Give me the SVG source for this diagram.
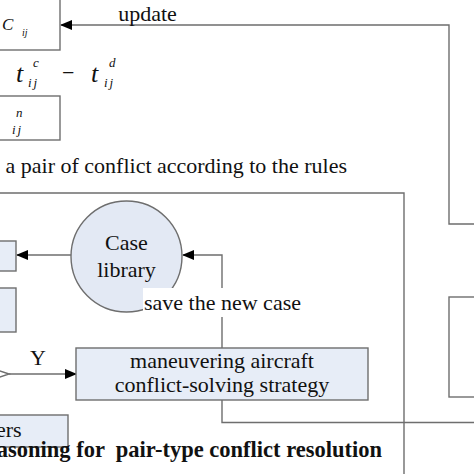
<svg xmlns="http://www.w3.org/2000/svg" width="474" height="474" viewBox="0 0 474 474">
<style>
.ln{fill:none;stroke:#6e6e6e;stroke-width:1.4}
.bx{fill:#ffffff;stroke:#6e6e6e;stroke-width:1.4}
.bb{fill:#e7edf7;stroke:#6e6e6e;stroke-width:1.4}
.t{font-family:'Times New Roman','Liberation Serif','DejaVu Serif',serif;font-size:22px;fill:#111}
.it{font-family:'Times New Roman','Liberation Serif','DejaVu Serif',serif;font-style:italic;fill:#111}
.b{font-family:'Times New Roman','Liberation Serif','DejaVu Serif',serif;font-size:22.5px;font-weight:bold;fill:#111}
</style>
<defs>
<marker id="ah" markerWidth="12" markerHeight="10" refX="11" refY="5" orient="auto" markerUnits="userSpaceOnUse">
<path d="M0,0 L12,5 L0,10 z" fill="#000"/>
</marker>
</defs>
<rect width="474" height="474" fill="#fff"/>
<g id="connectors">
<path class="ln" d="M474,224 H449 V25 H61" marker-end="url(#ah)"/>
<path class="ln" d="M0,193 H404 V476"/>
<path class="ln" d="M474,422.5 H222 V255 H183" marker-end="url(#ah)"/>
<path class="ln" d="M71,255 H17" marker-end="url(#ah)"/>
<path class="ln" d="M9,374 H76" marker-end="url(#ah)"/>
</g>
<g id="node-cij">
<rect class="bx" x="-2" y="-2" width="62" height="52"/>
<text class="it" x="2" y="30" font-size="17">C</text>
<text class="it" x="22" y="36" font-size="10">ij</text>
</g>
<g id="formula">
<text class="it" x="16" y="82" font-size="26">t</text>
<text class="it" x="33" y="67" font-size="13">c</text>
<text class="it" x="28" y="87" font-size="13" letter-spacing="2">ij</text>
<text class="t" x="62" y="80">−</text>
<text class="it" x="91" y="82" font-size="26">t</text>
<text class="it" x="109" y="67" font-size="13">d</text>
<text class="it" x="104" y="87" font-size="13" letter-spacing="2">ij</text>
</g>
<g id="node-nij">
<rect class="bx" x="-2" y="96" width="62" height="44"/>
<text class="it" x="16" y="117" font-size="13">n</text>
<text class="it" x="12" y="134" font-size="13" letter-spacing="2">ij</text>
</g>
<text class="t" x="347" y="173" text-anchor="end" font-size="22.4">a pair of conflict according to the rules</text>
<text class="t" x="147.5" y="21" text-anchor="middle">update</text>
<g id="node-case-library">
<circle cx="126.5" cy="256.5" r="55.5" fill="#e3e9f4" stroke="#6e6e6e" stroke-width="1.4"/>
<text class="t" x="126.5" y="250" text-anchor="middle">Case</text>
<text class="t" x="126.5" y="277" text-anchor="middle">library</text>
</g>
<g id="label-save">
<rect x="143" y="288" width="163" height="29" fill="#fff"/>
<text class="t" x="144" y="310">save the new case</text>
</g>
<g id="node-left1"><rect class="bb" x="-2" y="241" width="18" height="30"/></g>
<g id="node-left2"><rect class="bb" x="-2" y="288" width="18" height="44"/></g>
<g id="node-decision"><polygon class="bx" points="9,374 -40,358 -89,374 -40,390"/></g>
<text class="t" x="38" y="365" text-anchor="middle">Y</text>
<g id="node-maneuver">
<rect class="bb" x="76" y="348" width="292" height="52"/>
<text class="t" x="222" y="368" text-anchor="middle">maneuvering aircraft</text>
<text class="t" x="222" y="392" text-anchor="middle">conflict-solving strategy</text>
</g>
<g id="node-ers">
<rect class="bb" x="-2" y="415" width="70" height="32"/>
<text class="t" x="-4" y="437">ers</text>
</g>
<g id="node-right"><rect class="bx" x="449" y="297" width="30" height="100"/></g>
<text class="b" x="382" y="457" text-anchor="end" xml:space="preserve">asoning for  pair-type conflict resolution</text>
</svg>
